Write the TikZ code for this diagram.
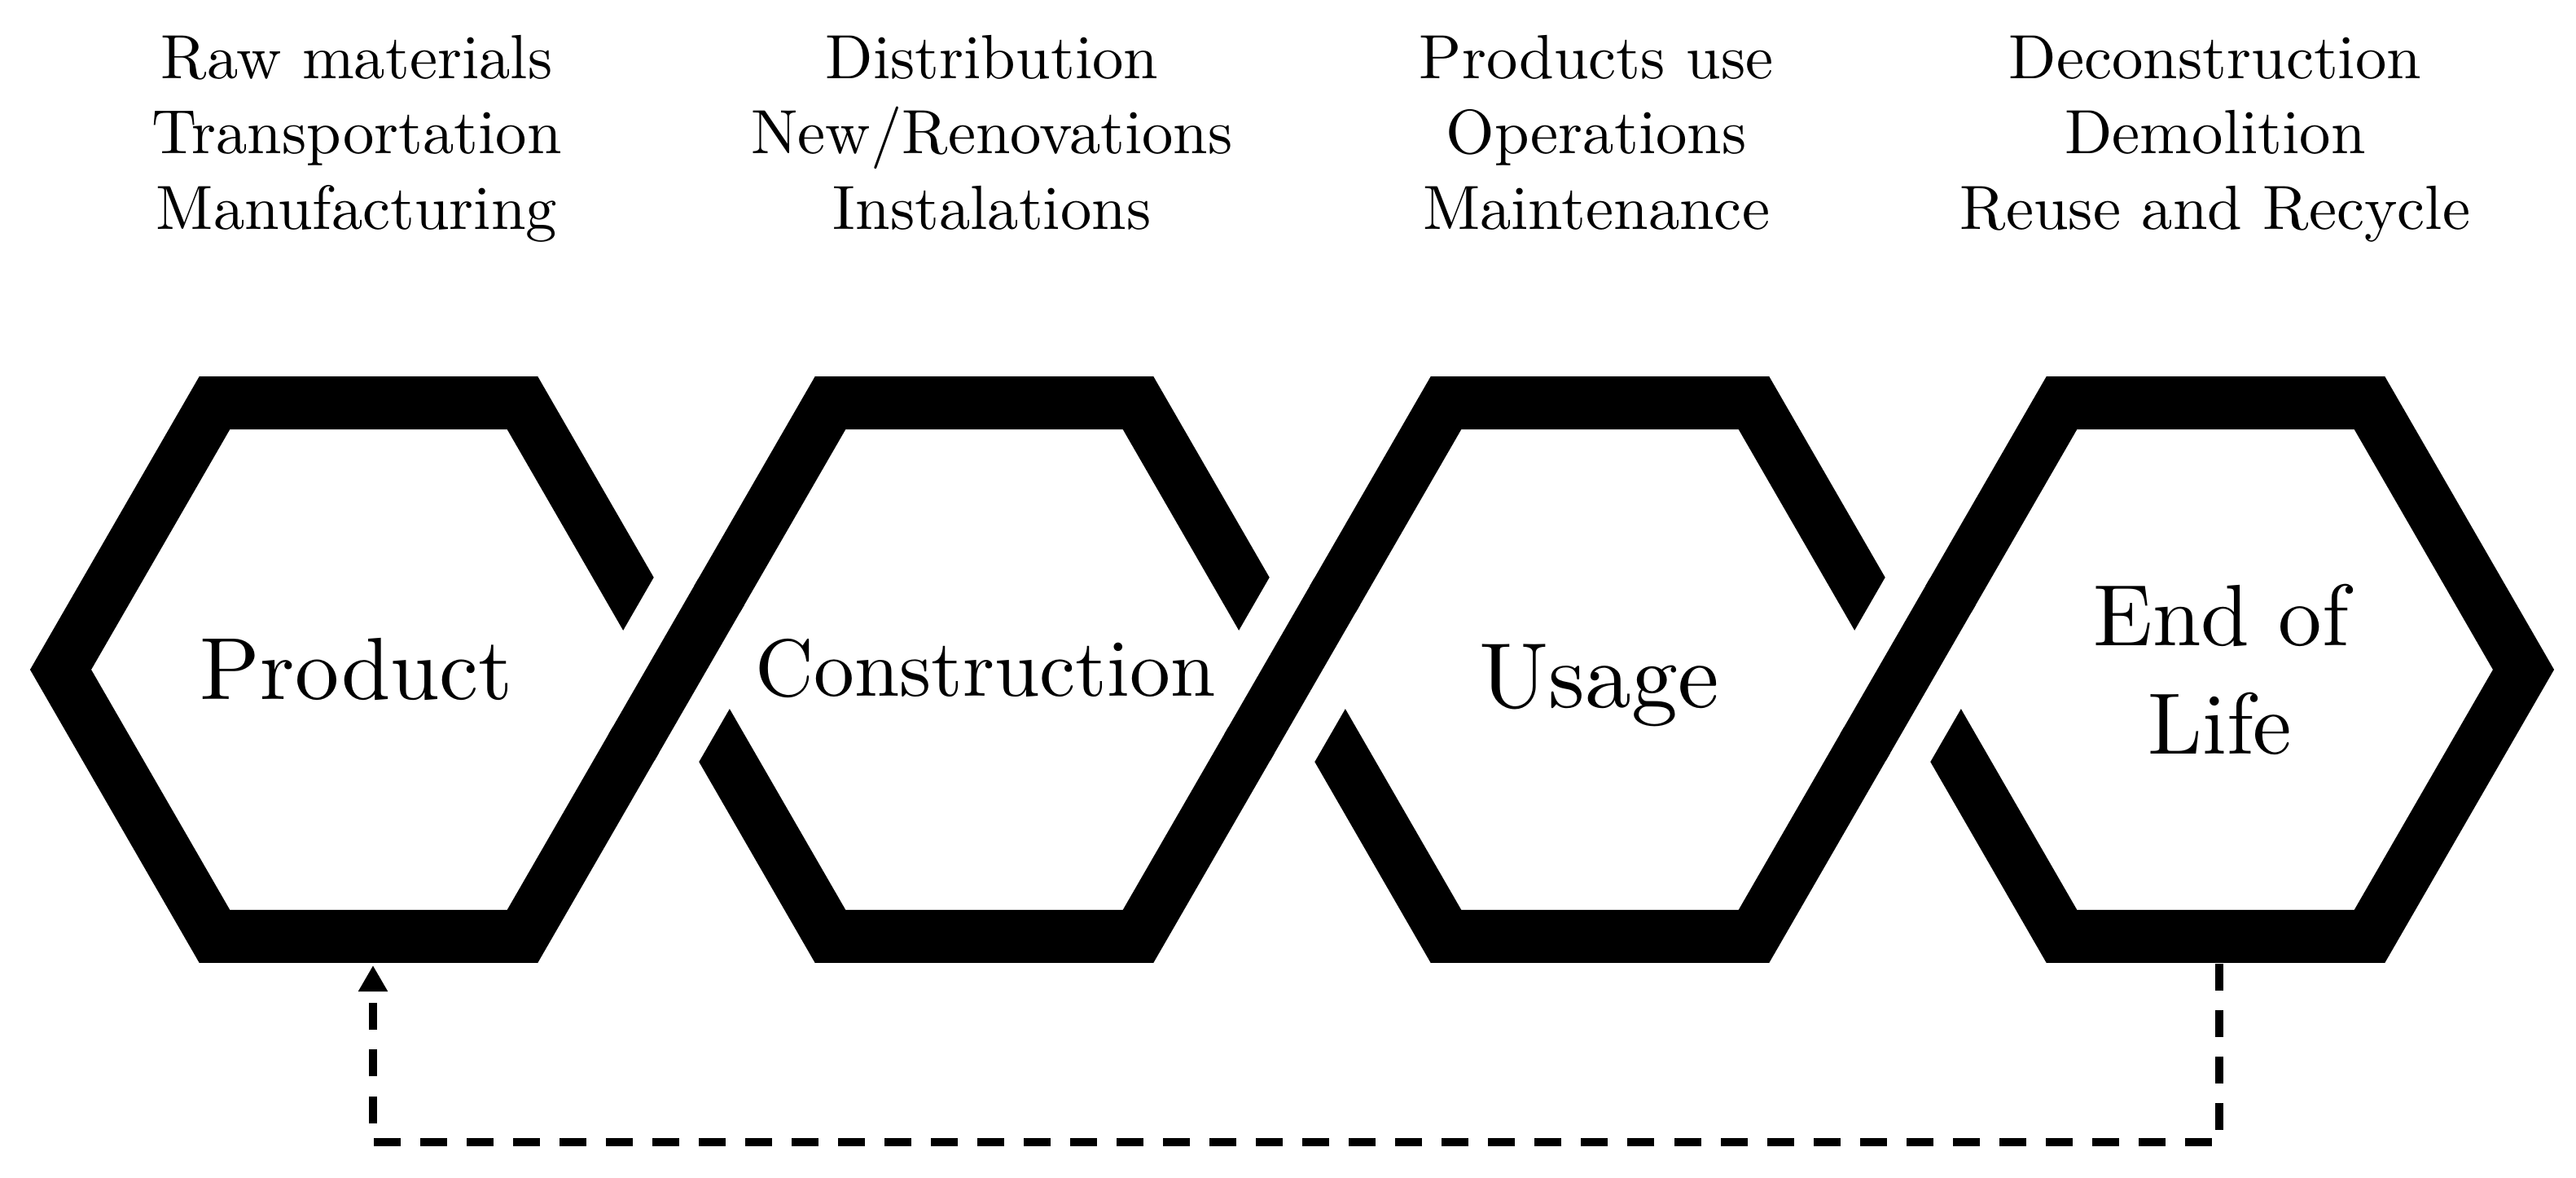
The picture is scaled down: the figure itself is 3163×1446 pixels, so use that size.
\documentclass[tikz,border=0pt]{standalone}
\usepackage{fontspec}
\setmainfont{lmroman10-regular.otf}
\usetikzlibrary{arrows.meta}
\tikzset{
  hexline/.style={line width=0.65cm, line join=miter, black},
  casing/.style={line width=1.61cm, white},
  band/.style={line width=0.65cm, black},
  toptext/.style={anchor=base, inner sep=0pt, font=\fontsize{21.8pt}{26pt}\selectfont},
  labeltext/.style={anchor=base, inner sep=0pt, font=\fontsize{#1pt}{36pt}\selectfont},
  feedback/.style={line width=0.1cm, dash pattern=on 0.33cm off 0.24cm, -{Triangle[length=0.32cm,width=0.34cm]}}
}
\begin{document}
\begin{tikzpicture}[x=0.01cm, y=-0.01cm]
\useasboundingbox[fill=white] (0,0) rectangle (3163,1446);
% hexagon outlines
\foreach \c in {452.5,1208.5,1964.5,2720.5}{
  \draw[hexline] (\c+378,822) -- (\c+189,494.6) -- (\c-189,494.6) -- (\c-378,822)
     -- (\c-189,1149.4) -- (\c+189,1149.4) -- cycle;
}
% interlocking crossings
\foreach \x in {830.5,1586.5,2342.5}{
  \draw[casing] (\x-50,822+86.6) -- (\x+50,822-86.6);
  \draw[band] (\x-55,822+95.3) -- (\x+55,822-95.3);
}
% top labels
\node[toptext] (t11) at (438,97) {Raw materials};
\node[toptext] (t12) at (438,189) {Transportation};
\node[toptext] (t13) at (438,282) {Manufacturing};
\node[toptext] (t21) at (1218,97) {Distribution};
\node[toptext] (t22) at (1218,189) {New/Renovations};
\node[toptext] (t23) at (1218,282) {Instalations};
\node[toptext] (t31) at (1960,97) {Products use};
\node[toptext] (t32) at (1960,189) {Operations};
\node[toptext] (t33) at (1960,282) {Maintenance};
\node[toptext] (t41) at (2720,97) {Deconstruction};
\node[toptext] (t42) at (2720,189) {Demolition};
\node[toptext] (t43) at (2720,282) {Reuse and Recycle};
% hexagon labels
\node[labeltext=30.8] (prod) at (438,858) {Product};
\node[labeltext=28.3] (cons) at (1210,854) {Construction};
\node[labeltext=32.3] (usage) at (1963.5,868) {Usage};
\node[labeltext=30.4] (eol1) at (2727,792) {End of};
\node[labeltext=30.4] (eol2) at (2726,925) {Life};
% feedback loop
\coordinate (eolbot) at (2725,1183);
\coordinate (prodbot) at (458,1185);
\draw[feedback] (eolbot) -- ++(0,219) -| (prodbot);
\end{tikzpicture}
\end{document}
